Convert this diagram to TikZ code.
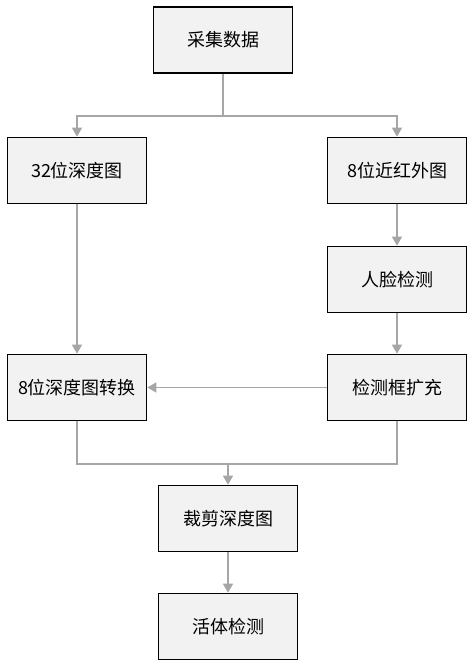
\documentclass[tikz,border=0pt]{standalone}
\newcommand\lcol{77}
\newcommand\rcol{397}
\newcommand\mcol{228}
\usepackage{fontspec}
\setmainfont{Noto Sans CJK SC}
\usepackage{tikz}
\usetikzlibrary{positioning,arrows.meta}
\definecolor{boxfill}{HTML}{F2F2F2}
\definecolor{linegray}{HTML}{A6A6A6}
\tikzset{box/.style={rectangle,draw=black,line width=1.6pt,fill=boxfill,minimum width=139pt,minimum height=66pt,font=\fontsize{18pt}{21pt}\selectfont},
  link/.style={draw=linegray,line width=1.5pt},
  arrow/.style={link,-{Triangle[width=10pt,length=9pt]}}}

\begin{document}
\begin{tikzpicture}[x=1pt,y=-1pt]
                \useasboundingbox (0,0) rectangle (474,668);
                \node[box] (caiji) at (223,40) {采集数据};
                \node[box] (depth32) at (\lcol,170.5) {32位深度图};
                \node[box] (nir) at (\rcol,170.5) {8位近红外图};
                \node[box] (face) at (\rcol,279.5) {人脸检测};
                \node[box] (depth8) at (\lcol,387.5) {8位深度图转换};
                \node[box] (expand) at (\rcol,387.5) {检测框扩充};
                \node[box] (crop) at (\mcol,518.5) {裁剪深度图};
                \node[box] (live) at (\mcol,626.5) {活体检测};

                \coordinate (split) at (223,116);
                \coordinate (merge) at (\mcol,464);
                \draw[link] (caiji.south) -- (split);
                \draw[arrow] (split) -| (depth32.north);
                \draw[arrow] (split) -| (nir.north);
                \draw[arrow] (depth32.south) -- (depth8.north);
                \draw[arrow] (nir.south) -- (face.north);
                \draw[arrow] (face.south) -- (expand.north);
                \draw[arrow] (expand.west) -- (depth8.east);
                \draw[link] (depth8.south) |- (merge);
                \draw[link] (expand.south) |- (merge);
                \draw[arrow] (merge) -- (crop.north);
                \draw[arrow] (crop.south) -- (live.north);
            \end{tikzpicture}
\end{document}
